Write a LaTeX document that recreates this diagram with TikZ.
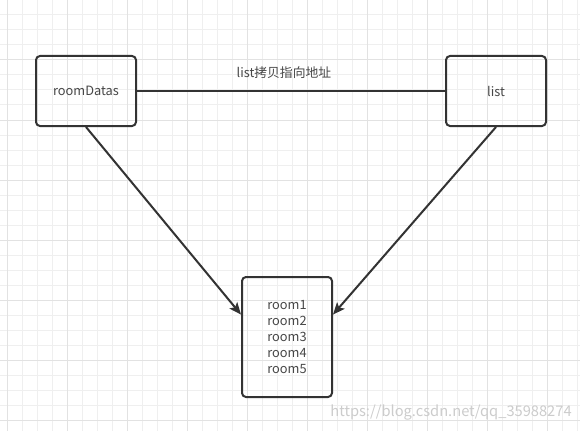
\documentclass[tikz,border=0pt]{standalone}
\usepackage{fontspec}
\setmainfont{Noto Sans CJK SC}
\usetikzlibrary{positioning}
\usetikzlibrary{arrows.meta}
\definecolor{ink}{HTML}{333333}
\definecolor{minorgrid}{HTML}{EFEFEF}
\definecolor{majorgrid}{HTML}{E2E2E2}

\begin{document}
\begin{tikzpicture}[x=0.75pt, y=-0.75pt,
  box/.style = {draw=ink, line width=1.5pt, rounded corners=3pt, text=ink!90, font=\fontsize{9.6}{11.9}\selectfont, align=center},
  link/.style = {draw=ink, line width=1.5pt},
  arrow/.style = {link, -{Stealth[length=9pt, width=7.5pt, inset=2pt]}}]
\useasboundingbox (0,0) rectangle (580,431);
\fill[white] (0,0) rectangle (580,431);
% grid
\foreach \gx in {7,22,...,577} \draw[minorgrid, line width=0.75pt] (\gx,0) -- (\gx,431);
\foreach \gy in {15,30,...,430} \draw[minorgrid, line width=0.75pt] (0,\gy) -- (580,\gy);
\foreach \gx in {7,67,...,577} \draw[majorgrid, line width=0.75pt] (\gx,0) -- (\gx,431);
\foreach \gy in {60,120,...,430} \draw[majorgrid, line width=0.75pt] (0,\gy) -- (580,\gy);
% boxes
\node[box, minimum width=75pt, minimum height=52.5pt] (roomDatas) at (86,91) {roomDatas};
\node[box, minimum width=75pt, minimum height=52.5pt] (list) at (496,91) {list};
\node[box, minimum width=67.5pt, minimum height=90pt] (rooms) at (287,337) {room1\\room2\\room3\\room4\\room5};
% connectors
\path (roomDatas) edge [link] node [pos=0.477, above=5pt, text=ink!90, font=\fontsize{9.6}{11}\selectfont] {list拷贝指向地址} (list);
\path (roomDatas.south) edge [arrow] (rooms.154);
\path (list.south) edge [arrow] (rooms.26);
% watermark
\node[text=gray!40, font=\fontsize{11}{12}\selectfont] (mark) at (451,412) {https://blog.csdn.net/qq\_35988274};
\end{tikzpicture}
\end{document}
